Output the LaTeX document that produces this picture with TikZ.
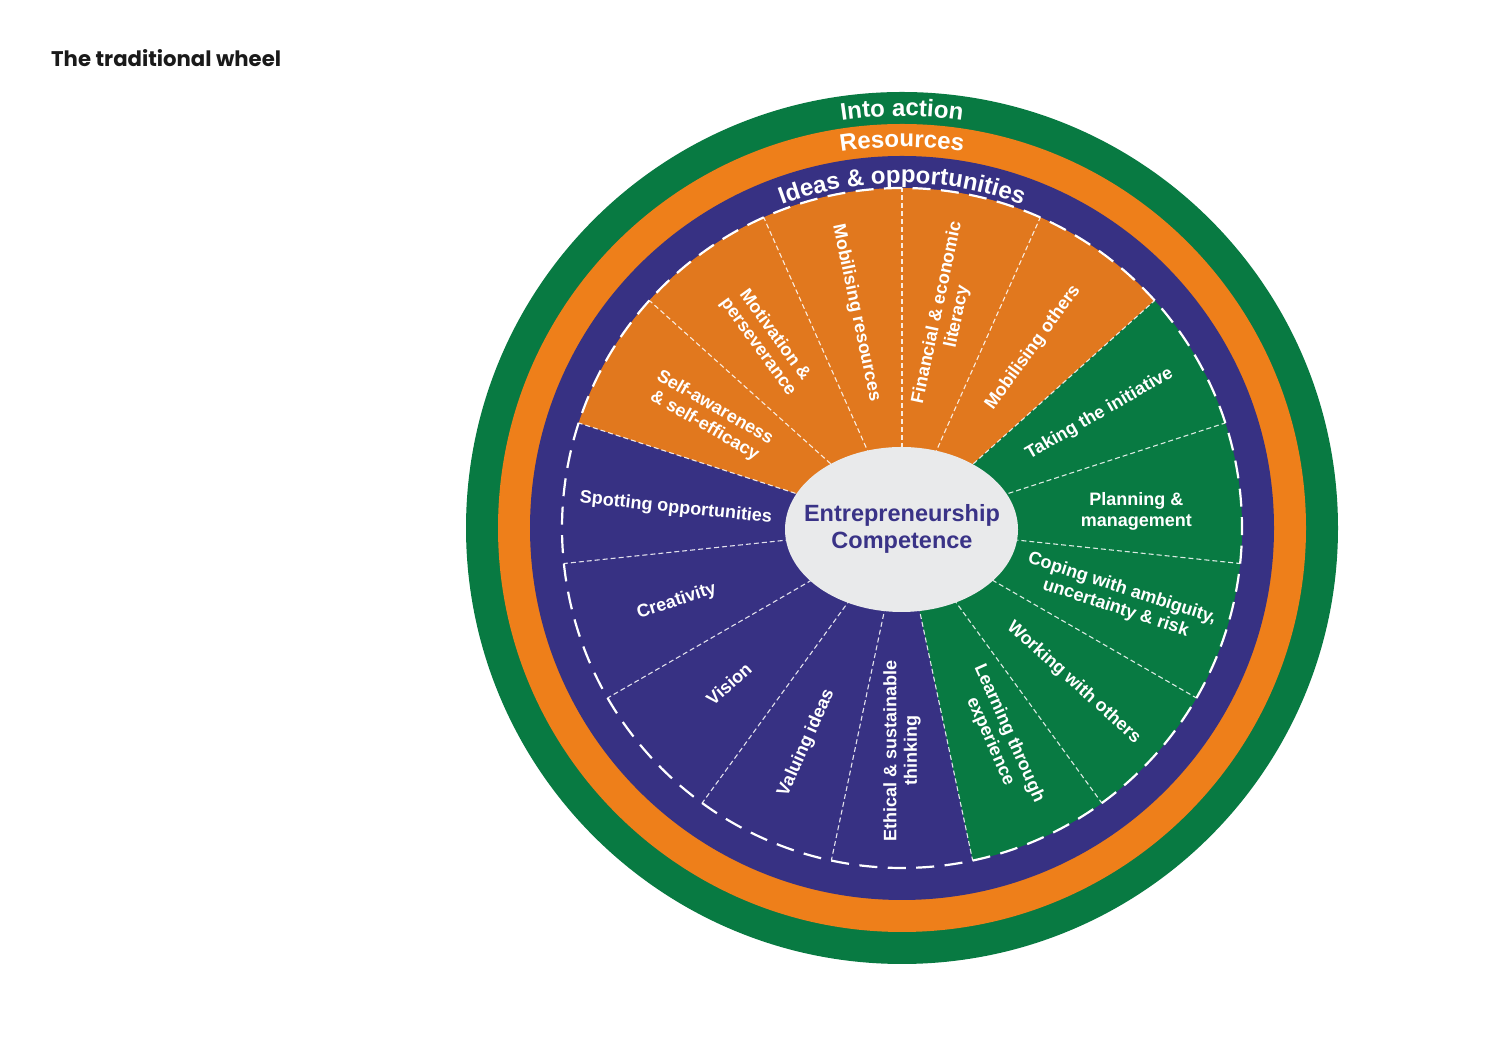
\documentclass[tikz,border=0pt]{standalone}
\usepackage{fontspec}
\setmainfont{Liberation Sans}
\newfontfamily\titlefont{Poppins}
\usetikzlibrary{decorations.text,shapes.geometric}
\definecolor{wgreen}{RGB}{8,122,66}
\definecolor{wring}{RGB}{238,127,26}
\definecolor{wsect}{RGB}{225,120,30}
\definecolor{wpurple}{RGB}{55,49,131}
\definecolor{wgrey}{RGB}{233,234,235}
\definecolor{wtext}{RGB}{58,51,135}
\definecolor{titlecol}{RGB}{26,26,26}
\begin{document}
\begin{tikzpicture}[x=1pt,y=1pt,
  seglabel/.style={font=\fontsize{18}{20.5}\selectfont\bfseries, text=white, align=center, inner sep=0pt},
  sepline/.style={draw=white, draw opacity=0.85, line width=1.1pt, dash pattern=on 5pt off 3pt},
  rimdash/.style={draw=white, line width=2.2pt, dash pattern=on 18pt off 10.48pt},
  ringtext/.style={decorate, decoration={text along path, text align=center, text={#1}}}
]
\useasboundingbox (0,0) rectangle (1497,1059);
\node[anchor=base west, text=titlecol, font=\titlefont\bfseries\fontsize{21.2}{21.2}\selectfont, inner sep=0pt] (title) at (51,992) {The traditional wheel};
\begin{scope}[shift={(902,531)}]
  \fill[wgreen] (0,0) circle[radius=436];
  \fill[wring] (0,0) circle[radius=404];
  \fill[wpurple] (0,0) circle[radius=372];
  \fill[wsect] (0,0) -- (42:340) arc[start angle=42, end angle=162, radius=340] -- cycle;
  \fill[wgreen] (0,0) -- (-78:340) arc[start angle=-78, end angle=42, radius=340] -- cycle;
  \foreach \a in {162,138,...,-174} \draw[sepline] (0,0) -- (\a:340);
  \foreach \a in {-174,-150,...,162} \draw[rimdash] (\a:340) arc[start angle=\a, end angle=\a+24, radius=340];
  \node[ellipse, fill=wgrey, minimum width=233pt, minimum height=165pt, inner sep=0pt] (core) at (-0.5,-1.5) {};
  \node[align=center, inner sep=0pt, text=wtext, font=\fontsize{23.5}{27}\selectfont\bfseries] (coretext) at (0,-1) {Entrepreneurship\\Competence};
  % ring labels
  \path[ringtext={|\fontsize{24}{24}\selectfont\bfseries\color{white}|Into action}] (120:412) arc[start angle=120, end angle=60, radius=412];
  \path[ringtext={|\fontsize{24}{24}\selectfont\bfseries\color{white}|Resources}] (120:381) arc[start angle=120, end angle=60, radius=381];
  \path[ringtext={|\fontsize{24}{24}\selectfont\bfseries\color{white}|Ideas {\&} opportunities}] (125:345) arc[start angle=125, end angle=55, radius=345];
  % sector labels
  \node[seglabel, rotate=-30] (s1) at (150:222) {Self-awareness\\\& self-efficacy};
  \node[seglabel, rotate=-54] (s2) at (126:231) {Motivation \&\\perseverance};
  \node[seglabel, rotate=-78] (s3) at (102:220) {Mobilising resources};
  \node[seglabel, rotate=78] (s4) at (78:218) {Financial \& economic\\literacy};
  \node[seglabel, rotate=54] (s5) at (54:223) {Mobilising others};
  \node[seglabel, rotate=30] (s6) at (30:228) {Taking the initiative};
  \node[seglabel, rotate=0] (s7) at (4:235) {Planning \&\\management};
  \node[seglabel, rotate=-18] (s8) at (-18:228) {Coping with ambiguity,\\uncertainty \& risk};
  \node[seglabel, rotate=-42] (s9) at (-42:231) {Working with others};
  \node[seglabel, rotate=-66] (s10) at (-65:231) {Learning through\\experience};
  \node[seglabel, rotate=90] (s11) at (-90:223) {Ethical \& sustainable\\thinking};
  \node[seglabel, rotate=66] (s12) at (-114:235) {Valuing ideas};
  \node[seglabel, rotate=42] (s13) at (-138:233) {Vision};
  \node[seglabel, rotate=18] (s14) at (-162:237) {Creativity};
  \node[seglabel, rotate=-6] (s15) at (175:227) {Spotting opportunities};
\end{scope}
\end{tikzpicture}
\end{document}
